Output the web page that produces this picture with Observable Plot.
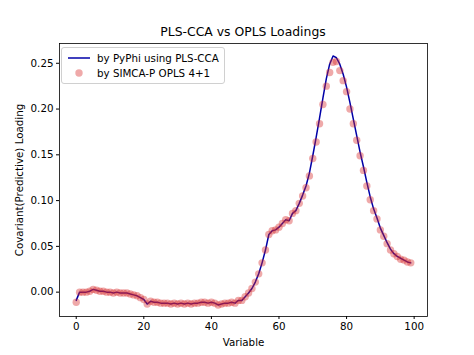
<!DOCTYPE html>
<html><head><meta charset="utf-8">
<script src="https://cdn.jsdelivr.net/npm/d3@7"></script>
<script src="https://cdn.jsdelivr.net/npm/@observablehq/plot@0.6"></script>
<style>
body{margin:0;background:#fff;}
#wrap{position:relative;width:474px;height:355px;font-family:"DejaVu Sans",sans-serif;color:#000;}
#title{position:absolute;left:59px;width:368px;top:24px;text-align:center;font-size:12.4px;}
#legend{position:absolute;left:61px;top:47px;width:162px;height:35px;border:1px solid #d0d0d0;border-radius:3px;background:rgba(255,255,255,0.8);font-size:10.3px;}
.row{position:absolute;left:0;height:14px;display:flex;align-items:center;}
.row svg{margin-left:6px;margin-right:7px;}
</style></head><body><div id="wrap"><div id="title">PLS-CCA vs OPLS Loadings</div></div>
<script>
const pyphi = [
-0.009, 0.000, 0.000, 0.000, 0.001, 0.003, 0.002, 0.001, 0.001, 0.000,
 0.000,-0.001, 0.000,-0.001,-0.001,-0.001,-0.002,-0.003,-0.004,-0.006,
-0.008,-0.013,-0.010,-0.011,-0.011,-0.012,-0.012,-0.012,-0.013,-0.012,
-0.013,-0.012,-0.013,-0.012,-0.013,-0.012,-0.012,-0.011,-0.011,-0.012,
-0.011,-0.012,-0.014,-0.013,-0.012,-0.012,-0.011,-0.012,-0.009,-0.009,
-0.005,-0.001, 0.004, 0.011, 0.020, 0.032, 0.046, 0.063, 0.067, 0.068,
 0.071, 0.075, 0.079, 0.078, 0.086, 0.089, 0.097, 0.106, 0.116, 0.130,
 0.149, 0.169, 0.190, 0.212, 0.233, 0.249, 0.258, 0.256, 0.249, 0.238,
 0.224, 0.207, 0.189, 0.171, 0.153, 0.137, 0.120, 0.104, 0.091, 0.081,
 0.070, 0.062, 0.054, 0.047, 0.042, 0.039, 0.037, 0.035, 0.033, 0.032];
const simca = [
-0.011, 0.000, 0.000, 0.000, 0.001, 0.003, 0.002, 0.001, 0.001, 0.000,
 0.000,-0.001, 0.000,-0.001,-0.001,-0.001,-0.002,-0.003,-0.004,-0.006,
-0.008,-0.013,-0.010,-0.011,-0.011,-0.012,-0.012,-0.012,-0.013,-0.012,
-0.013,-0.012,-0.013,-0.012,-0.013,-0.012,-0.012,-0.011,-0.011,-0.012,
-0.011,-0.012,-0.014,-0.013,-0.012,-0.012,-0.011,-0.012,-0.009,-0.009,
-0.005,-0.001, 0.004, 0.011, 0.020, 0.032, 0.046, 0.063, 0.067, 0.068,
 0.071, 0.075, 0.079, 0.078, 0.086, 0.089, 0.097, 0.105, 0.114, 0.127,
 0.146, 0.164, 0.184, 0.205, 0.225, 0.240, 0.251, 0.252, 0.242, 0.231,
 0.219, 0.200, 0.184, 0.166, 0.149, 0.133, 0.116, 0.101, 0.089, 0.080,
 0.068, 0.061, 0.053, 0.046, 0.042, 0.039, 0.036, 0.035, 0.033, 0.032];
const xTicks = [0, 20, 40, 60, 80, 100];
const yTicks = [0.00, 0.05, 0.10, 0.15, 0.20, 0.25];
const seriesNames = ["by PyPhi using PLS-CCA", "by SIMCA-P OPLS 4+1"];
const lineColor = "#0000a8";
const dotColor = "#d62728";

const lineData = pyphi.map((v, i) => ({x: i, y: v}));
const dotData = simca.map((v, i) => ({x: i, y: v}));

const chart = Plot.plot({
  width: 474, height: 355,
  marginLeft: 59, marginRight: 47, marginTop: 43, marginBottom: 39,
  style: {fontFamily: "DejaVu Sans, sans-serif", fontSize: "10.3px", color: "#000", background: "transparent"},
  x: {domain: [-4.95, 103.95]},
  y: {domain: [-0.0266, 0.2716]},
  marks: [
    Plot.frame({stroke: "#000", strokeWidth: 0.8}),
    Plot.axisX({ticks: xTicks, tickSize: 3, tickPadding: 3, tickFormat: d => d, label: "Variable", labelAnchor: "center", labelArrow: "none", labelOffset: 29}),
    Plot.axisY({ticks: yTicks, tickSize: 3, tickPadding: 3, tickFormat: d3.format(".2f"), label: "Covariant(Predictive) Loading", labelAnchor: "center", labelArrow: "none", labelOffset: 44}),
    Plot.line(lineData, {x: "x", y: "y", stroke: lineColor, strokeWidth: 1.5}),
    Plot.dot(dotData, {x: "x", y: "y", r: 3.7, fill: dotColor, fillOpacity: 0.4, stroke: "none"})
  ]
});
const wrap = document.getElementById("wrap");
wrap.insertBefore(chart, wrap.firstChild);

const legend = document.createElement("div");
legend.id = "legend";
legend.innerHTML = `
<div class="row" style="top:3px"><svg width="22" height="10"><line x1="0" x2="22" y1="5" y2="5" stroke="${lineColor}" stroke-width="1.5"/></svg><span>${seriesNames[0]}</span></div>
<div class="row" style="top:18px"><svg width="22" height="10"><circle cx="11" cy="5" r="3.7" fill="${dotColor}" fill-opacity="0.4"/></svg><span>${seriesNames[1]}</span></div>`;
wrap.appendChild(legend);
</script>
</body></html>
